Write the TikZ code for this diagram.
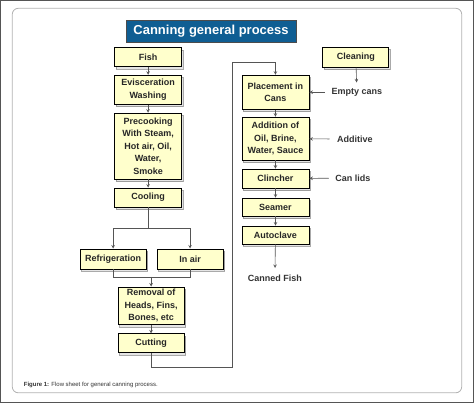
\documentclass[tikz,border=0pt]{standalone}
\usepackage{fontspec}
\setmainfont{Liberation Sans}
\usepackage{xcolor}
\usetikzlibrary{shadows}
\definecolor{boxfill}{HTML}{FFFFCC}
\definecolor{titleblue}{HTML}{0F5E93}
\definecolor{linegray}{HTML}{555555}
\newcommand{\ingresso}[1]{\textbf{#1}}

\begin{document}
\begin{tikzpicture}[>=stealth, x=1pt, y=-1pt,
  box/.style={draw=black, thick, fill=boxfill, text=black!85,
    font=\fontsize{9}{12.5}\selectfont\bfseries, align=center,
    minimum width=67pt, minimum height=19pt, inner sep=1pt,
    drop shadow={shadow xshift=1.5pt, shadow yshift=-2.5pt, fill=gray!40}},
  lbl/.style={text=black!80, font=\fontsize{9}{11}\selectfont\bfseries},
  every path/.style={draw=linegray, line width=0.6pt}]
  \useasboundingbox (0,0) rectangle (474,403);
  \draw[gray!60, line width=0.8pt, rounded corners=6pt] (12,8) rectangle (462,393);
  \node[fill=titleblue, draw=black!70, text=white, minimum width=170pt, minimum height=22pt,
    font=\fontsize{13}{15}\selectfont\bfseries] (title) at (211,31) {Canning general process};
  % left column
  \node[box] (fish) at (148,57) {Fish};
  \node[box, minimum height=29pt] (evisc) at (148,89.5) {Evisceration\\Washing};
  \node[box, minimum height=66pt] (precook) at (148,146) {Precooking\\With Steam,\\Hot air, Oil,\\Water,\\Smoke};
  \node[box] (cool) at (148,197.5) {Cooling};
  \node[box, minimum width=66pt, minimum height=20pt] (refr) at (113,259) {Refrigeration};
  \node[box, minimum width=66pt, minimum height=20pt] (inair) at (190,259) {In air};
  \node[box, minimum width=66pt, minimum height=38pt] (removal) at (151,306) {Removal of\\Heads, Fins,\\Bones, etc};
  \node[box, minimum width=66pt] (cutting) at (151,343.5) {Cutting};
  % right column
  \node[box, minimum height=34pt] (placement) at (275.5,92) {Placement in\\Cans};
  \node[box, minimum height=43pt] (addition) at (275.5,138.5) {Addition of\\Oil, Brine,\\Water, Sauce};
  \node[box] (clincher) at (275.5,178.5) {Clincher};
  \node[box, minimum height=18pt] (seamer) at (275.5,207) {Seamer};
  \node[box, minimum height=18pt] (autoclave) at (275.5,235) {Autoclave};
  \node[box, minimum width=66pt, minimum height=20pt] (cleaning) at (356,57) {Cleaning};
  \node[lbl] (canned) at (275,278) {Canned Fish};
  \node[lbl] (empty) at (357,92) {Empty cans};
  \node[lbl] (additive) at (355,139) {Additive};
  \node[lbl] (lids) at (353,178) {Can lids};
  \node[anchor=west, text=black!80, font=\fontsize{6}{7}\selectfont] (caption) at (20,385)
    {\ingresso{Figure 1:} Flow sheet for general canning process.};
  % connectors
  \draw[->] (fish) -- (evisc);
  \draw[->] (evisc) -- (precook);
  \draw[->] (precook) -- (cool);
  \draw (cool.south) -- ++(0,21) coordinate (split);
  \draw[->] (split) -| (refr.north);
  \draw[->] (split) -| (inair.north);
  \draw (refr.south) -- ++(0,8) -| (inair.south);
  \coordinate (join) at (removal.north |- 0,277);
  \draw[->] (join) -- (removal.north);
  \draw[->] (removal) -- (cutting);
  \coordinate (loopb) at (232,367);
  \coordinate (loopt) at (232,62);
  \draw[->] (cutting.south) |- (loopb) -- (loopt) -| (placement.north);
  \foreach \a/\b in {placement/addition, addition/clincher, clincher/seamer, seamer/autoclave}
    \draw[->] (\a) -- (\b);
  \draw[->, shorten >=3pt] (autoclave) -- (canned);
  \draw[->, shorten >=2pt] (cleaning) -- (empty);
  \draw[->, shorten <=3pt] (empty) -- (placement);
  \draw[->, shorten <=4pt] (additive) -- (addition);
  \draw[->, shorten <=3pt] (lids) -- (clincher);
\end{tikzpicture}
\end{document}
